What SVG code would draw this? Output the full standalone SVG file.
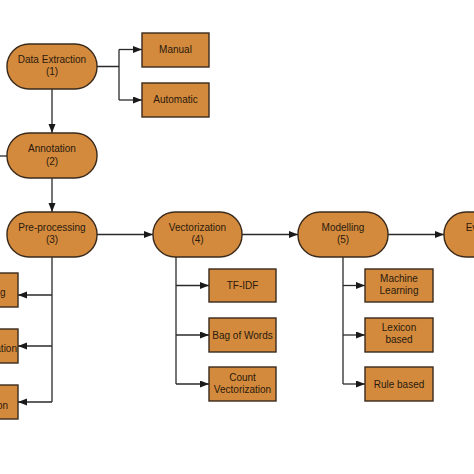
<svg xmlns="http://www.w3.org/2000/svg" width="474" height="474" viewBox="0 0 474 474">
<style>
.node{fill:#D38A3D;stroke:#3a2a1c;stroke-width:1.4}
.lbl{font-family:"Liberation Sans",Arial,sans-serif;font-size:10px;fill:#2a1a0d;text-anchor:middle}
.end{text-anchor:end}
.conn path{fill:none;stroke:#2a2a2a;stroke-width:1.3}
</style>
<defs>
<marker id="arr" markerUnits="userSpaceOnUse" markerWidth="10" markerHeight="8" refX="9" refY="3.5" orient="auto">
<path d="M0,0 L9,3.5 L0,7 z" fill="#1a1a1a"/>
</marker>
</defs>
<rect width="474" height="474" fill="#ffffff"/>
<g class="conn">
<path d="M97,66.5 H119 M119,49.5 V100"/>
<path d="M119,49.5 H142" marker-end="url(#arr)"/>
<path d="M119,100 H142" marker-end="url(#arr)"/>
<path d="M52,89 V133" marker-end="url(#arr)"/>
<path d="M0,156 H7"/>
<path d="M52,178 V212" marker-end="url(#arr)"/>
<path d="M52,257 V402"/>
<path d="M52,295 H18" marker-end="url(#arr)"/>
<path d="M52,346 H18" marker-end="url(#arr)"/>
<path d="M52,402 H18" marker-end="url(#arr)"/>
<path d="M97,234.5 H153" marker-end="url(#arr)"/>
<path d="M176,257 V384"/>
<path d="M176,285.5 H209" marker-end="url(#arr)"/>
<path d="M176,335 H209" marker-end="url(#arr)"/>
<path d="M176,384 H209" marker-end="url(#arr)"/>
<path d="M242,234.5 H298" marker-end="url(#arr)"/>
<path d="M343,257 V384"/>
<path d="M343,285.5 H365" marker-end="url(#arr)"/>
<path d="M343,335 H365" marker-end="url(#arr)"/>
<path d="M343,384 H365" marker-end="url(#arr)"/>
<path d="M388,234.5 H444" marker-end="url(#arr)"/>
</g>
<g id="n1"><rect class="node" x="7" y="44" width="90" height="45" rx="22"/><text class="lbl" x="52" y="62.5">Data Extraction</text><text class="lbl" x="52" y="75">(1)</text></g>
<g id="manual"><rect class="node" x="142" y="33" width="67" height="34"/><text class="lbl" x="175.5" y="53">Manual</text></g>
<g id="automatic"><rect class="node" x="142" y="83" width="67" height="34"/><text class="lbl" x="175.5" y="103">Automatic</text></g>
<g id="n2"><rect class="node" x="7" y="133" width="90" height="45" rx="22"/><text class="lbl" x="52" y="152">Annotation</text><text class="lbl" x="52" y="164.5">(2)</text></g>
<g id="n3"><rect class="node" x="7" y="212" width="90" height="45" rx="22"/><text class="lbl" x="52" y="230.5">Pre-processing</text><text class="lbl" x="52" y="243">(3)</text></g>
<g id="p1"><rect class="node" x="-49" y="273" width="67" height="34"/><text class="lbl end" x="5.5" y="296">Tokenizing</text></g>
<g id="p2"><rect class="node" x="-49" y="329" width="67" height="34"/><text class="lbl end" x="17" y="352">Normalization</text></g>
<g id="p3"><rect class="node" x="-49" y="385" width="67" height="34"/><text class="lbl end" x="8" y="409">Lemmatization</text></g>
<g id="n4"><rect class="node" x="153" y="212" width="89" height="45" rx="22"/><text class="lbl" x="197.5" y="230.5">Vectorization</text><text class="lbl" x="197.5" y="243">(4)</text></g>
<g id="v1"><rect class="node" x="209" y="269" width="67" height="33"/><text class="lbl" x="242.5" y="289">TF-IDF</text></g>
<g id="v2"><rect class="node" x="209" y="318" width="67" height="34"/><text class="lbl" x="242.5" y="338.5">Bag of Words</text></g>
<g id="v3"><rect class="node" x="209" y="367" width="67" height="34"/><text class="lbl" x="242.5" y="381">Count</text><text class="lbl" x="242.5" y="393">Vectorization</text></g>
<g id="n5"><rect class="node" x="298" y="212" width="90" height="45" rx="22"/><text class="lbl" x="343" y="230.5">Modelling</text><text class="lbl" x="343" y="243">(5)</text></g>
<g id="m1"><rect class="node" x="365" y="269" width="68" height="33"/><text class="lbl" x="399" y="282">Machine</text><text class="lbl" x="399" y="294">Learning</text></g>
<g id="m2"><rect class="node" x="365" y="318" width="68" height="34"/><text class="lbl" x="399" y="331">Lexicon</text><text class="lbl" x="399" y="343">based</text></g>
<g id="m3"><rect class="node" x="365" y="367" width="68" height="34"/><text class="lbl" x="399" y="387.5">Rule based</text></g>
<g id="n6"><rect class="node" x="444" y="212" width="90" height="45" rx="22"/><text class="lbl" x="489" y="230.5">Evaluation</text></g>
</svg>
